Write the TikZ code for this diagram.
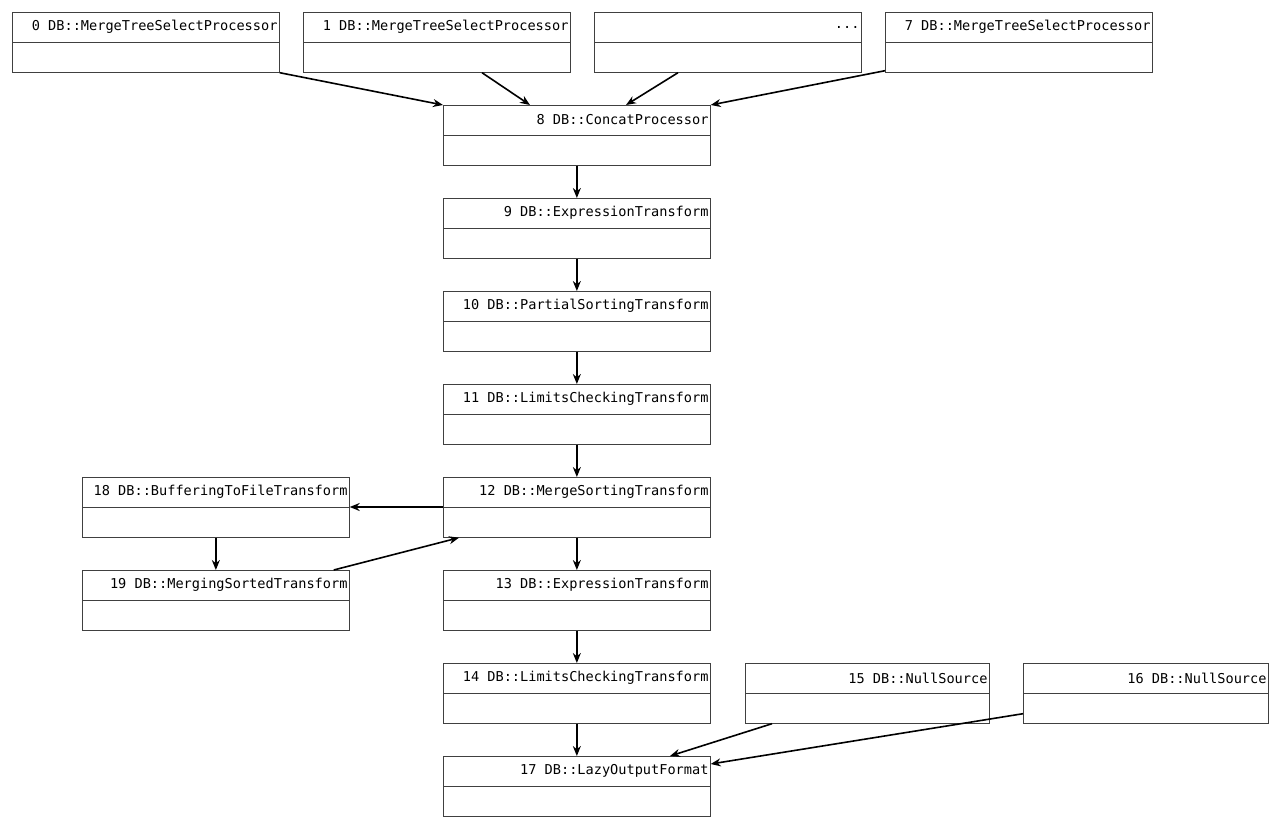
\documentclass[tikz,border=0pt]{standalone}
\usepackage{fontspec}
\setmonofont{DejaVu Sans Mono}
\usetikzlibrary{arrows.meta,calc}
\tikzset{
 pbox/.style={draw=black!75,line width=0.7pt,minimum height=60pt,inner sep=0pt,anchor=north west},
 conn/.style={line width=1.6pt,-{Stealth[length=10pt,width=8pt]}}
}
\newcommand{\pb}[5]{%
 \node[pbox,minimum width=#4pt] (#1) at (#2,#3) {};
 \draw[black!75,line width=0.7pt] ($(#1.north west)+(0,30)$) -- ($(#1.north east)+(0,30)$);
 \node[anchor=east,inner sep=0pt,font=\ttfamily\fontsize{13.6}{14}\selectfont] (#1t) at ($(#1.north east)+(-2,15)$) {#5};}
\begin{document}
\begin{tikzpicture}[x=1pt,y=-1pt]
\useasboundingbox[fill=white] (0,0) rectangle (1280,832);
\pb{n0}{12}{12}{267}{0 DB::MergeTreeSelectProcessor}
\pb{n1}{303}{12}{267}{1 DB::MergeTreeSelectProcessor}
\pb{nd}{594}{12}{267}{...}
\pb{n7}{885}{12}{267}{7 DB::MergeTreeSelectProcessor}
\pb{n8}{443}{105}{267}{8 DB::ConcatProcessor}
\pb{n9}{443}{198}{267}{9 DB::ExpressionTransform}
\pb{n10}{443}{291}{267}{10 DB::PartialSortingTransform}
\pb{n11}{443}{384}{267}{11 DB::LimitsCheckingTransform}
\pb{n12}{443}{477}{267}{12 DB::MergeSortingTransform}
\pb{n13}{443}{570}{267}{13 DB::ExpressionTransform}
\pb{n14}{443}{663}{267}{14 DB::LimitsCheckingTransform}
\pb{n17}{443}{756}{267}{17 DB::LazyOutputFormat}
\pb{n18}{82}{477}{267}{18 DB::BufferingToFileTransform}
\pb{n19}{82}{570}{267}{19 DB::MergingSortedTransform}
\pb{n15}{745}{663}{244}{15 DB::NullSource}
\pb{n16}{1023}{663}{245}{16 DB::NullSource}
\draw[conn] (n0.south east) -- (n8.north west);
\draw[conn] ($(n1.south west)+(179,0)$) -- ($(n8.north west)+(87,0)$);
\draw[conn] ($(nd.south west)+(84,0)$) -- ($(n8.north west)+(183,0)$);
\draw[conn] ($(n7.south west)+(0,-2)$) -- (n8.north east);
\foreach \a/\b in {n8/n9,n9/n10,n10/n11,n11/n12,n12/n13,n13/n14,n14/n17,n18/n19}
  \draw[conn] (\a.south) -- (\b.north);
\draw[conn] ($(n12.north west)+(0,30)$) -- ($(n18.north east)+(0,30)$);
\draw[conn] ($(n19.north east)+(-16,0)$) -- ($(n12.south west)+(16,0)$);
\draw[conn] ($(n15.south west)+(27,0)$) -- ($(n17.north west)+(227,0)$);
\draw[conn] ($(n16.south west)+(0,-10)$) -- ($(n17.north east)+(0,8)$);
\end{tikzpicture}
\end{document}
